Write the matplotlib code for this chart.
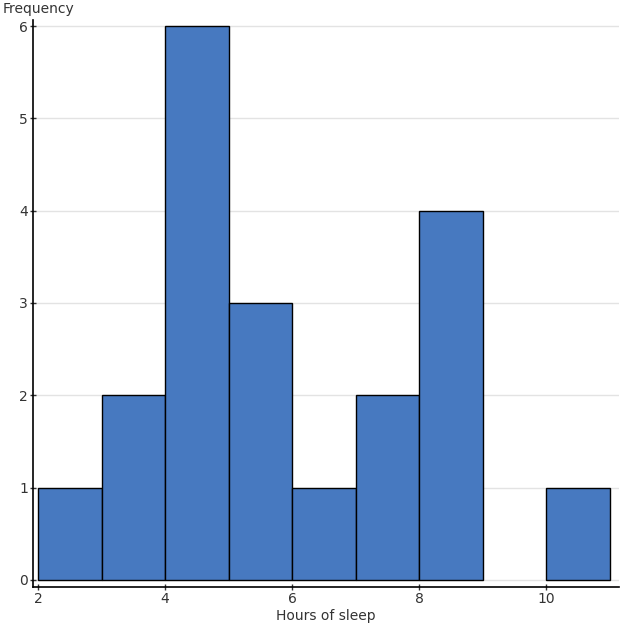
import matplotlib
matplotlib.use("Agg")
import matplotlib.pyplot as plt
import numpy as np

bin_starts = [2, 3, 4, 5, 6, 7, 8, 9, 10]
counts = [1, 2, 6, 3, 1, 2, 4, 0, 1]
bin_width = 1
x_ticks = [2, 4, 6, 8, 10]
y_ticks = [0, 1, 2, 3, 4, 5, 6]

W = H = 627
fig = plt.figure(figsize=(6.27, 6.27), dpi=100)
ax = fig.add_axes([33 / W, 1 - 587 / H, (619 - 33) / W, (587 - 20) / H])

for s, c in zip(bin_starts, counts):
    if c > 0:
        ax.bar(s, c, width=bin_width, align='edge', color='#4779c0',
               edgecolor='black', linewidth=1, zorder=3)

ax.set_xlim(2 - 5 / 63.5, 2 + (619 - 38) / 63.5)
ax.set_ylim(-7 / 92.3, 6 + 6 / 92.3)
ax.set_xticks(x_ticks)
ax.set_yticks(y_ticks)
ax.grid(axis='y', color='#e3e3e3', linewidth=1, zorder=0)
for sp in ['top', 'right']:
    ax.spines[sp].set_visible(False)
for sp in ['left', 'bottom']:
    ax.spines[sp].set_linewidth(1.2)
    ax.spines[sp].set_color('black')
ax.tick_params(axis='both', direction='inout', length=5, width=1,
               labelsize=10, colors='#333333', pad=1)
ax.tick_params(axis='x', labelcolor='#333333')
ax.set_xlabel('Hours of sleep', fontsize=10, color='#333333', labelpad=2)
fig.text(3 / W, 1 - 9 / H, 'Frequency', fontsize=10, color='#333333',
         ha='left', va='center')

fig.savefig('out.png', dpi=100)
